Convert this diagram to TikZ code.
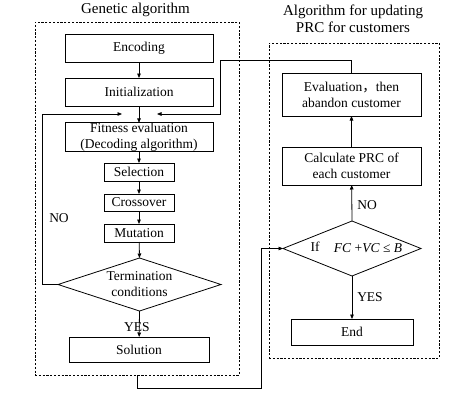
\documentclass[tikz,border=0pt]{standalone}
\usepackage{fontspec}
\setmainfont{Liberation Serif}
\newfontfamily\cjk{Noto Sans CJK SC}
\usetikzlibrary{arrows.meta,shapes.geometric}
\begin{document}
\begin{tikzpicture}[x=1pt,y=-1pt,
  every node/.style={inner sep=0pt,outer sep=0pt},
  txt/.style={font=\fontsize{13.5}{16}\selectfont,align=center},
  box/.style={txt,draw,line width=0.8pt,rectangle},
  dbox/.style={draw,line width=0.8pt,dash pattern=on 2.2pt off 1.6pt,rectangle},
  dia/.style={txt,draw,line width=0.8pt,shape=diamond},
  ttl/.style={font=\fontsize{15}{17.5}\selectfont,align=center},
  arr/.style={line width=0.8pt,-{Triangle[length=4.5pt,width=3.6pt]}},
  ln/.style={line width=0.8pt}]
\useasboundingbox (0,0) rectangle (474,415);
% titles
\node[ttl,anchor=base] (t1) at (135.5,13.5) {Genetic algorithm};
\node[ttl] (t2) at (353,19) {Algorithm for updating\\PRC for customers};
% dashed frames
\node[dbox,minimum width=204pt,minimum height=353pt] (gabox) at (137,198.5) {};
\node[dbox,minimum width=170pt,minimum height=315pt] (prcbox) at (354,200.5) {};
% left flow
\node[box,minimum width=148pt,minimum height=28pt] (enc) at (139,48) {Encoding};
\node[box,minimum width=148pt,minimum height=28pt] (ini) at (139,92) {Initialization};
\node[box,minimum width=148pt,minimum height=28pt] (fit) at (139,137) {Fitness evaluation\\(Decoding algorithm)};
\node[box,minimum width=70pt,minimum height=18pt] (sel) at (139,172) {Selection};
\node[box,minimum width=70pt,minimum height=17pt] (cro) at (139,202.5) {Crossover};
\node[box,minimum width=70pt,minimum height=18pt] (mut) at (139,233) {Mutation};
\node[dia,minimum width=163pt,minimum height=53pt,aspect=3.08] (term) at (139.5,284.5) {Termination\\conditions};
\node[box,minimum width=140pt,minimum height=25pt] (sol) at (139,349.5) {Solution};
\node[txt] (no1) at (59,218) {NO};
\node[txt] (yes1) at (137,327) {YES};
% right flow
\node[box,minimum width=139pt,minimum height=43pt] (eva) at (351.5,94.5) {Evaluation{\cjk ，}then\\abandon customer};
\node[box,minimum width=139pt,minimum height=38pt] (cal) at (351.5,166) {Calculate PRC of\\each customer};
\node[dia,minimum width=138pt,minimum height=55pt,aspect=2.5] (cond) at (352,248.5) {};
\node[txt] (ift) at (315,247) {If};
\node[txt] (frm) at (368,248) {\textit{FC} +\textit{VC} ≤ \textit{B}};
\node[box,minimum width=122pt,minimum height=26pt] (end) at (352,332) {End};
\node[txt] (no2) at (367,205) {NO};
\node[txt] (yes2) at (370,297) {YES};
% coordinates
\coordinate (noend) at (122,114);
\coordinate (fbend) at (157,114);
\coordinate (rt) at (220,60);
\coordinate (bt) at (261,388);
% connectors
\draw[arr] (enc) -- (ini);
\draw[arr] (ini) -- (fit);
\draw[arr] (fit) -- (sel);
\draw[arr] (sel) -- (cro);
\draw[arr] (cro) -- (mut);
\draw[arr] (mut) -- (term.north);
\draw[arr] (term.south) -- (sol);
\draw[arr] (term.west) -- ++(-16,0) |- (noend);
\draw[arr] (eva.north) |- (rt) |- (fbend);
\draw[arr] (cal) -- (eva);
\draw[arr] (cond.north) -- (cal);
\draw[arr] (cond.south) -- (end);
\draw[arr] (gabox.south) |- (bt) |- (cond.west);
\end{tikzpicture}
\end{document}
